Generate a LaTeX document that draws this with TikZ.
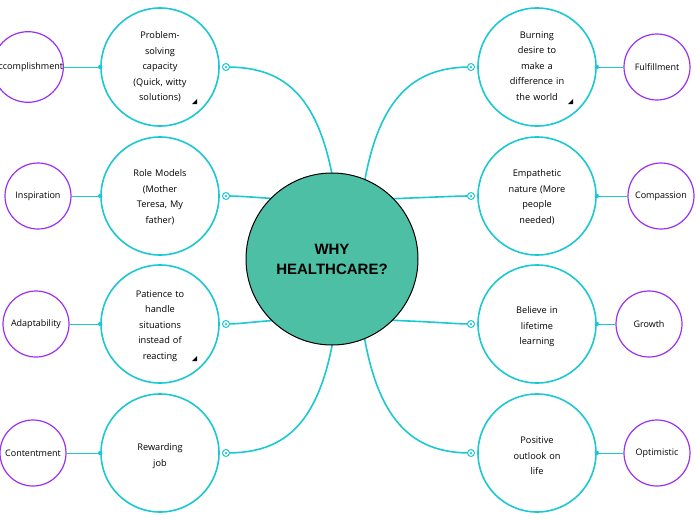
\documentclass[tikz,border=0pt]{standalone}
\usepackage{fontspec}
\setmainfont{Open Sans}
\newfontfamily\hfont{Liberation Sans}
\definecolor{cy}{HTML}{1CC8D2}
\definecolor{pu}{HTML}{9B30F0}
\definecolor{tl}{HTML}{4CBFA4}
\begin{document}
\begin{tikzpicture}[x=1pt,y=-1pt,
  big/.style={circle,draw=cy,line width=1.6pt,fill=white,minimum size=118pt,inner sep=0pt},
  sm/.style={circle,draw=pu,line width=1.2pt,fill=white,minimum size=66pt,inner sep=0pt,font=\fontsize{9}{10}\selectfont},
  txt/.style={align=center,text width=70pt,font=\fontsize{9.2}{15.5}\selectfont},
  con/.style={cy,line width=1.6pt},
  mk/.style={circle,draw=cy,fill=white,line width=1pt,minimum size=7pt,inner sep=0pt},
  dt/.style={circle,fill=cy,minimum size=4.5pt,inner sep=0pt},
  ctr/.style={circle,draw=black,line width=1pt,fill=tl,minimum size=172pt,align=center,font=\hfont\bfseries\fontsize{15}{20}\selectfont}]
\useasboundingbox (0,0) rectangle (697,520);
\foreach \n/\x/\y in {ml1/226/67,ml2/226/196,ml3/226/324,ml4/226/453,mr1/471/67,mr2/471/196,mr3/471/324,mr4/471/453}{\coordinate (\n) at (\x,\y);}
\draw[con] (334,185) .. controls (318,90) and (280,67) .. (ml1);
\draw[con] (280,199) .. controls (250,197) and (240,196) .. (ml2);
\draw[con] (280,320) .. controls (250,322) and (240,324) .. (ml3);
\draw[con] (334,335) .. controls (318,430) and (280,453) .. (ml4);
\draw[con] (364,185) .. controls (380,90) and (420,67) .. (mr1);
\draw[con] (384,199) .. controls (440,197) and (455,196) .. (mr2);
\draw[con] (384,320) .. controls (440,322) and (455,324) .. (mr3);
\draw[con] (364,335) .. controls (380,430) and (420,453) .. (mr4);
\node[ctr] (c) at (332,259) {WHY\\HEALTHCARE?};
\foreach \n/\x/\y in {bl1/160/67,bl2/160/196,bl3/160/324,bl4/160/453,br1/537/67,br2/537/196,br3/537/324,br4/537/453}{\node[big] (\n) at (\x,\y) {};}
\node[sm] (sl1) at (28,67) {Accomplishment};
\node[sm] (sl2) at (38,196) {Inspiration};
\node[sm] (sl3) at (36,324) {Adaptability};
\node[sm] (sl4) at (33,453) {Contentment};
\node[sm] (sr1) at (657,67) {Fulfillment};
\node[sm] (sr2) at (661,196) {Compassion};
\node[sm] (sr3) at (649,324) {Growth};
\node[sm] (sr4) at (657,453) {Optimistic};
\foreach \i in {1,2,3,4}{
  \draw[cy,line width=1pt] (bl\i.west) -- (sl\i.east);
  \draw[cy,line width=1pt] (br\i.east) -- (sr\i.west);
  \node[dt] at (bl\i.west) {}; \node[dt] at (br\i.east) {};
  \node[mk] at (ml\i) {}; \node[dt,minimum size=2.5pt] at (ml\i) {};
  \node[mk] at (mr\i) {}; \node[dt,minimum size=2.5pt] at (mr\i) {};
}
\begin{scope}\clip (100,30) rectangle (220,106);
\node[txt,anchor=north] (t1) at (160,28) {Problem-\\solving\\capacity\\(Quick, witty\\solutions)};\end{scope}
\begin{scope}\clip (477,30) rectangle (597,106);
\node[txt,anchor=north] (t5) at (537,28) {Burning\\desire to\\make a\\difference in\\the world};\end{scope}
\fill (197,99) -- (197,104) -- (192,104) -- cycle;
\fill (573,99) -- (573,104) -- (568,104) -- cycle;
\fill (197,356) -- (197,361) -- (192,361) -- cycle;
\node[txt] (t2) at (160,197) {Role Models\\(Mother\\Teresa, My\\father)};
\node[txt] (t3) at (160,326) {Patience to\\handle\\situations\\instead of\\reacting};
\node[txt] (t4) at (160,456) {Rewarding\\job};
\node[txt] (t6) at (537,197) {Empathetic\\nature (More\\people\\needed)};
\node[txt] (t7) at (537,327) {Believe in\\lifetime\\learning};
\node[txt] (t8) at (537,456) {Positive\\outlook on\\life};
\end{tikzpicture}
\end{document}
